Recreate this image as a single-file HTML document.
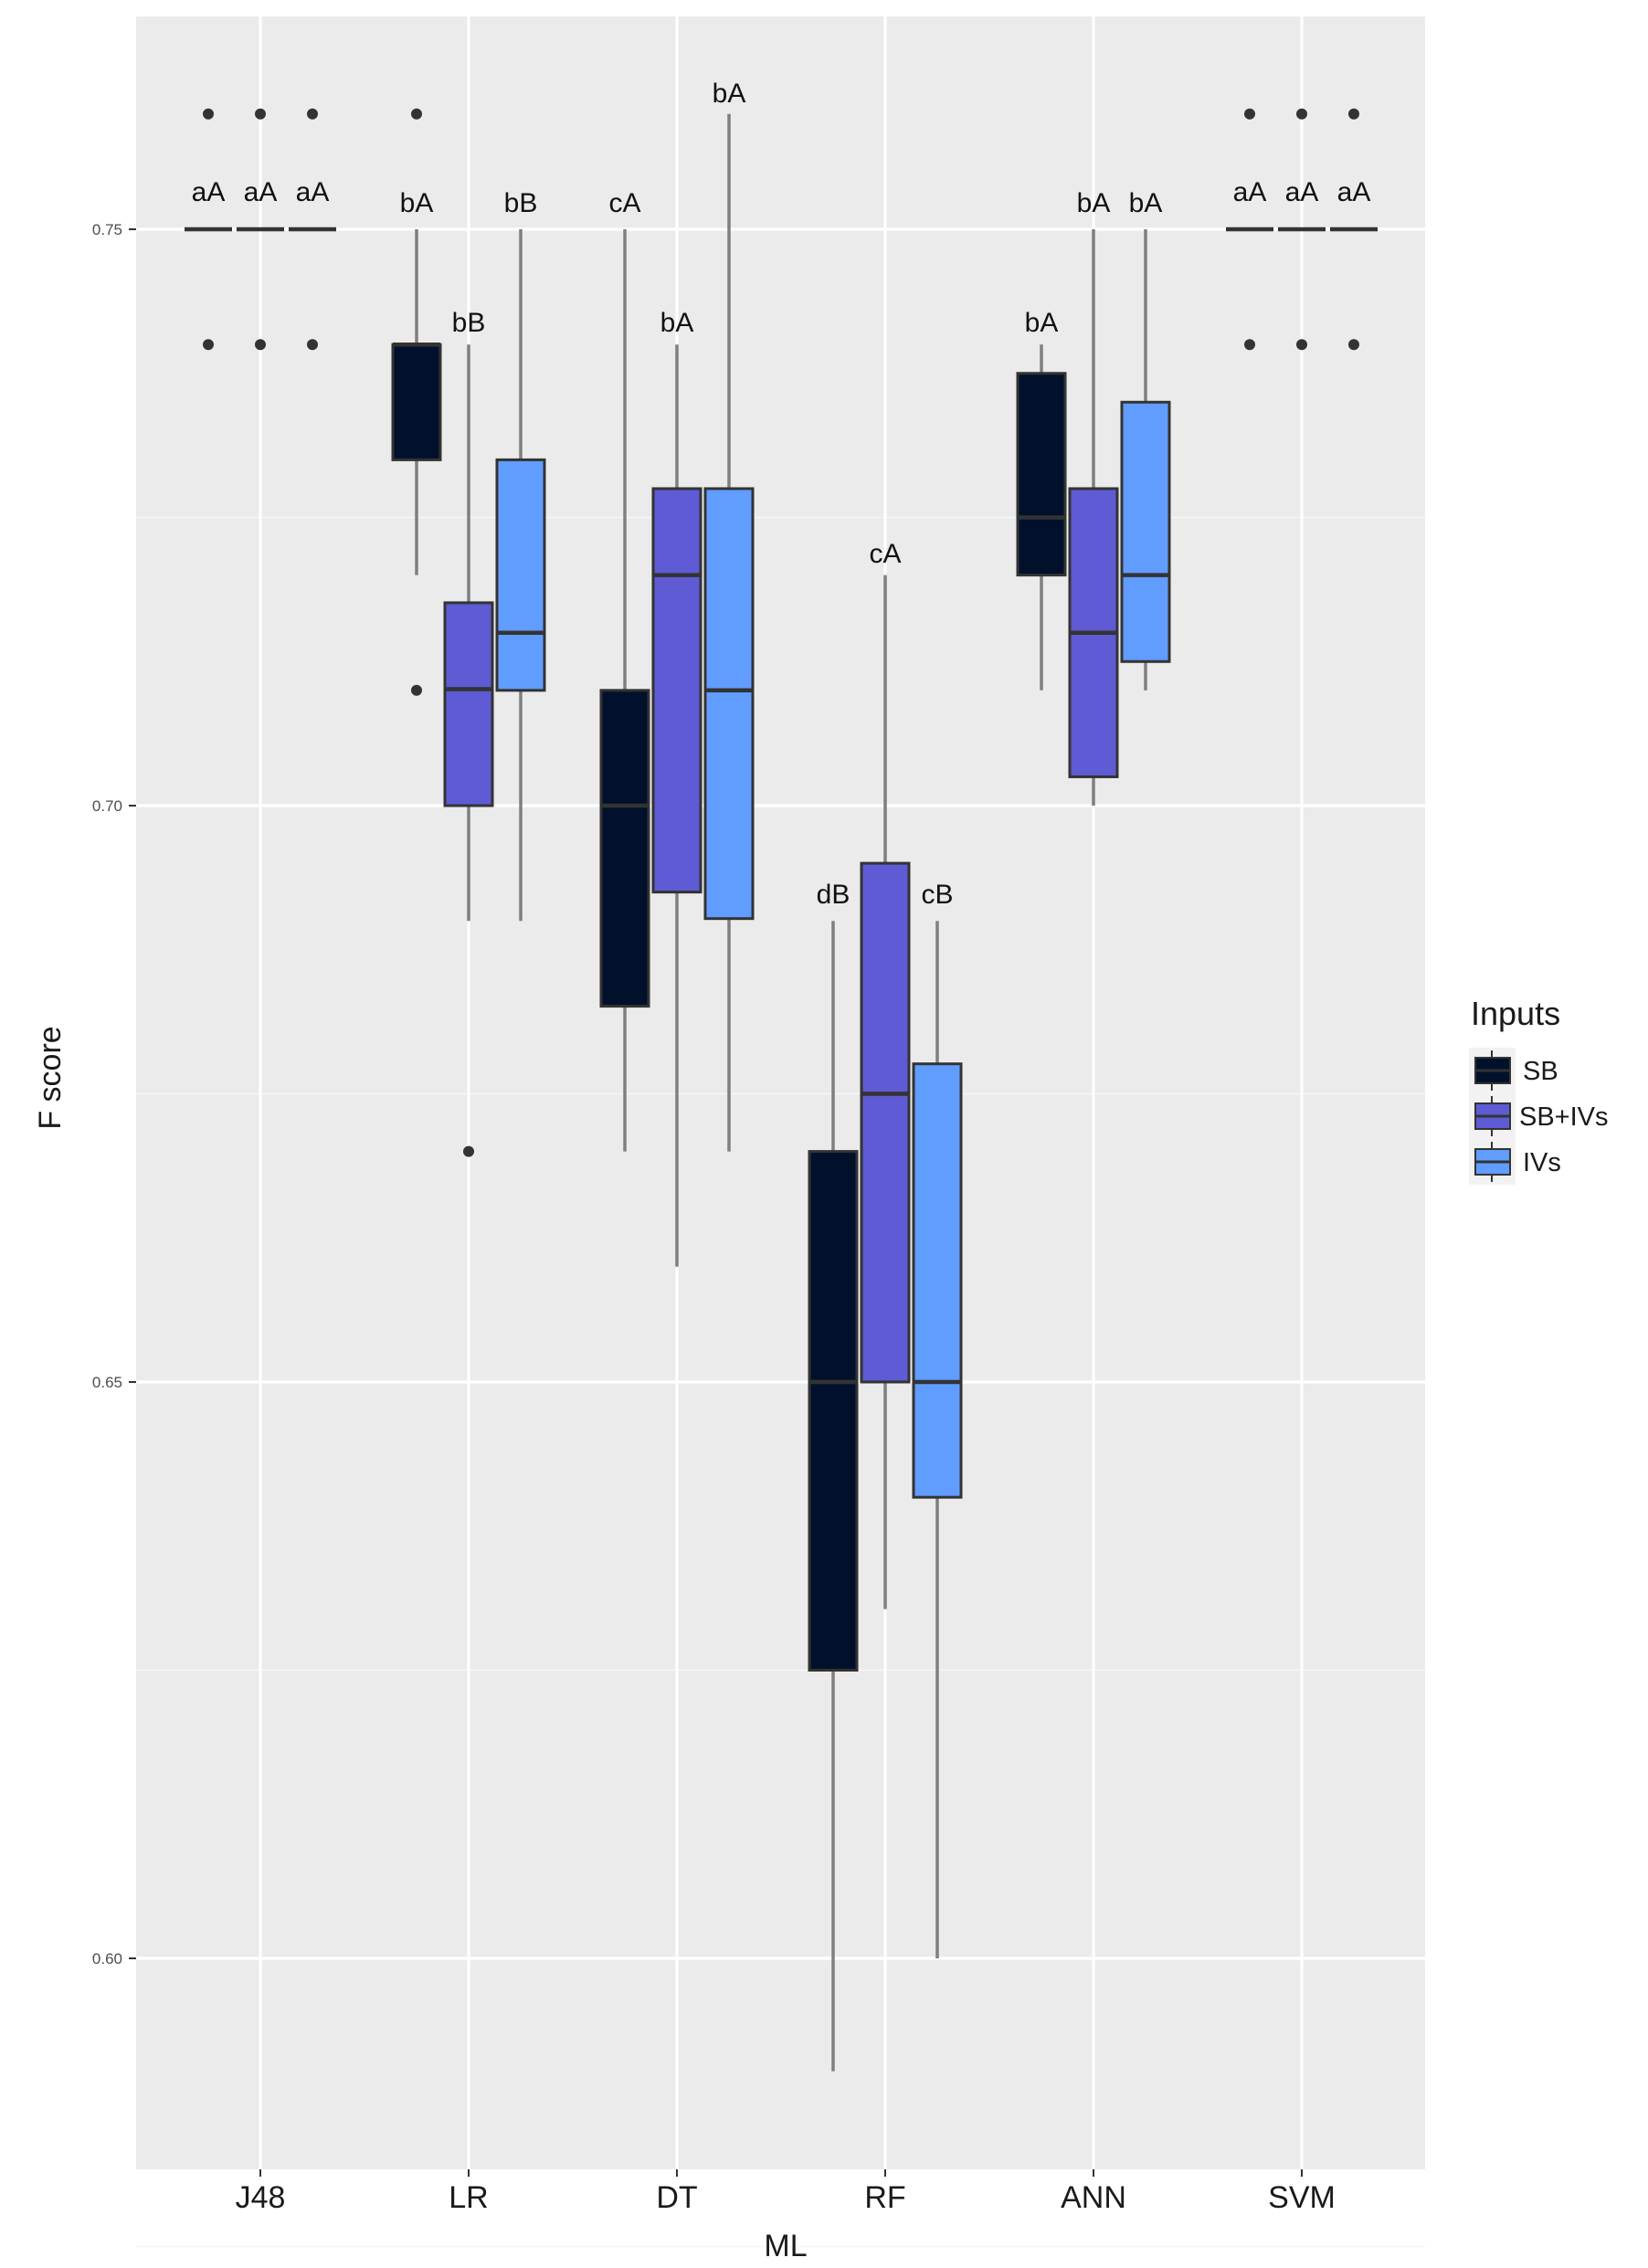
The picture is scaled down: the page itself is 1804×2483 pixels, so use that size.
<!DOCTYPE html>
<html><head><meta charset="utf-8"><style>
html,body{margin:0;padding:0;background:#fff;}
svg{display:block;}
text{font-family:"Liberation Sans",sans-serif;}
</style></head><body>
<svg id="s" width="1804" height="2483" viewBox="0 0 1804 2483" xmlns="http://www.w3.org/2000/svg">
<rect x="0" y="0" width="1804" height="2483" fill="#fff"/>
<rect x="149" y="18" width="1411" height="2357" fill="#ebebeb"/>
<g id="grid"></g>
<g id="boxes"></g>
<g font-size="30" fill="#111" text-anchor="middle">
<text x="228" y="220">aA</text><text x="285" y="220">aA</text><text x="342" y="220">aA</text>
<text x="456" y="232">bA</text><text x="513" y="363">bB</text><text x="570" y="232">bB</text>
<text x="684" y="232">cA</text><text x="741" y="363">bA</text><text x="798" y="112">bA</text>
<text x="912" y="989">dB</text><text x="969" y="616">cA</text><text x="1026" y="989">cB</text>
<text x="1140" y="363">bA</text><text x="1197" y="232">bA</text><text x="1254" y="232">bA</text>
<text x="1368" y="220">aA</text><text x="1425" y="220">aA</text><text x="1482" y="220">aA</text>
</g>
<g font-size="17" fill="#4d4d4d" text-anchor="end">
<text x="134" y="257">0.75</text><text x="134" y="888">0.70</text><text x="134" y="1519">0.65</text><text x="134" y="2150">0.60</text>
</g>
<g font-size="34" fill="#1a1a1a" text-anchor="middle">
<text x="285" y="2417">J48</text><text x="513" y="2417">LR</text><text x="741" y="2417">DT</text>
<text x="969" y="2417">RF</text><text x="1197" y="2417">ANN</text><text x="1425" y="2417">SVM</text>
<text x="860" y="2470">ML</text>
<text transform="translate(66,1180) rotate(-90)">F score</text>
</g>
<text x="1610" y="1122" font-size="36" fill="#1a1a1a">Inputs</text>
<rect x="1608" y="1147" width="51" height="150" fill="#f2f2f2"/>
<g id="leg"></g>
<g font-size="29" fill="#1a1a1a">
<text x="1667" y="1182">SB</text><text x="1663" y="1232">SB+IVs</text><text x="1667" y="1282">IVs</text>
</g>
</svg>
<script>
var NS="http://www.w3.org/2000/svg";
function Y(v){return 251+(0.75-v)*12620;}
function el(p,t,a){var e=document.createElementNS(NS,t);for(var k in a)e.setAttribute(k,a[k]);p.appendChild(e);return e;}
var g=document.getElementById('grid');
[0.775,0.725,0.675,0.625,0.575].forEach(function(v){el(g,'line',{x1:149,x2:1560,y1:Y(v),y2:Y(v),stroke:'#f6f6f6','stroke-width':1.6});});
[0.75,0.70,0.65,0.60].forEach(function(v){el(g,'line',{x1:149,x2:1560,y1:Y(v),y2:Y(v),stroke:'#fff','stroke-width':3.2});el(g,'line',{x1:141,x2:149,y1:Y(v),y2:Y(v),stroke:'#333','stroke-width':2});});
var cs=[285,513,741,969,1197,1425];
cs.forEach(function(x){el(g,'line',{x1:x,x2:x,y1:18,y2:2375,stroke:'#fff','stroke-width':3.2});el(g,'line',{x1:x,x2:x,y1:2375,y2:2383,stroke:'#333','stroke-width':2});});
var col=['#02112b','#5e5bd4','#619cff'];
// [lo,q1,med,q3,hi,outliers]
var D=[
[[.75,.75,.75,.75,.75,[.76,.74]],[.75,.75,.75,.75,.75,[.76,.74]],[.75,.75,.75,.75,.75,[.76,.74]]],
[[.72,.73,.74,.74,.75,[.76,.71]],[.69,.70,.7101,.7176,.74,[.67]],[.69,.71,.715,.73,.75,[]]],
[[.67,.6826,.70,.71,.75,[]],[.66,.6925,.72,.7275,.74,[]],[.67,.6902,.71,.7275,.76,[]]],
[[.5902,.625,.65,.67,.69,[]],[.6303,.65,.675,.695,.72,[]],[.60,.64,.65,.6776,.69,[]]],
[[.71,.72,.725,.7375,.74,[]],[.70,.7025,.715,.7275,.75,[]],[.71,.7125,.72,.735,.75,[]]],
[[.75,.75,.75,.75,.75,[.76,.74]],[.75,.75,.75,.75,.75,[.76,.74]],[.75,.75,.75,.75,.75,[.76,.74]]]];
var b=document.getElementById('boxes');
D.forEach(function(grp,i){grp.forEach(function(d,j){
 var x=cs[i]+(j-1)*57,w=52;
 el(b,'line',{x1:x,x2:x,y1:Y(d[4]),y2:Y(d[3]),stroke:'#7f7f7f','stroke-width':3.5});
 el(b,'line',{x1:x,x2:x,y1:Y(d[1]),y2:Y(d[0]),stroke:'#7f7f7f','stroke-width':3.5});
 if(d[3]>d[1])el(b,'rect',{x:x-w/2,y:Y(d[3]),width:w,height:Y(d[1])-Y(d[3]),fill:col[j],stroke:'#333','stroke-width':3});
 el(b,'line',{x1:x-w/2,x2:x+w/2,y1:Y(d[2]),y2:Y(d[2]),stroke:'#333','stroke-width':4.5});
 d[5].forEach(function(o){el(b,'circle',{cx:x,cy:Y(o),r:6,fill:'#333'});});
});});
var lg=document.getElementById('leg');
for(var j=0;j<3;j++){var cy=1172+j*50;
 el(lg,'line',{x1:1633,x2:1633,y1:cy-22,y2:cy+22,stroke:'#333','stroke-width':2});
 el(lg,'rect',{x:1615,y:cy-14,width:38,height:28,fill:col[j],stroke:'#333','stroke-width':2});
 el(lg,'line',{x1:1615,x2:1653,y1:cy,y2:cy,stroke:'#333','stroke-width':3});}
</script>
</body></html>
